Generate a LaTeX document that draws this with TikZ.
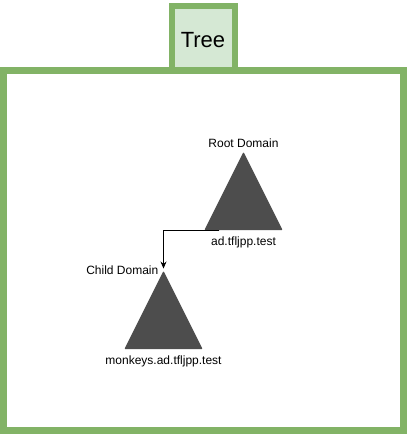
\documentclass[tikz,border=0pt]{standalone}
\usepackage{fontspec}
\setmainfont{Liberation Sans}
\usetikzlibrary{shapes.geometric,positioning,arrows.meta}
\definecolor{treegreen}{RGB}{130,179,102}
\definecolor{treefill}{RGB}{213,232,212}
\definecolor{domaingray}{RGB}{77,77,77}

\begin{document}
\begin{tikzpicture}[
    x=1pt, y=-1pt,
    frame/.style={rectangle, draw=treegreen, line width=7pt, fill=white, minimum width=400pt, minimum height=360pt, inner sep=0pt},
    title/.style={rectangle, draw=treegreen, line width=6pt, fill=treefill, minimum width=63pt, minimum height=64pt, inner sep=0pt, font=\fontsize{22}{26}\selectfont},
    domaintri/.style={isosceles triangle, isosceles triangle stretches, shape border rotate=90, minimum width=76pt, minimum height=76pt, inner sep=0pt, draw=domaingray, fill=domaingray, line width=1.5pt, line join=round},
    caption/.style={inner sep=1pt, font=\fontsize{12}{14}\selectfont},
    link/.style={-{Stealth[length=7pt,width=6pt]}, line width=0.8pt, black}
]
\useasboundingbox (0,0) rectangle (407,434);

% Tree container
\node[title] (title) at (203,38) {};
\node[frame] (tree) at (203.5,250.5) {};
\node[font=\fontsize{22}{26}\selectfont] (titletext) at (203,40) {Tree};

% Domains
\node[domaintri] (root) at (243.5,206) {};
\node[caption, above=3pt of root.apex] (rootname) {Root Domain};
\node[caption, below=5pt of root.south] (rootdns) {ad.tfljpp.test};

\node[domaintri] (child) at (163.5,325) {};
\node[caption, left=4pt of child.apex] (childname) {Child Domain};
\node[caption, below=5pt of child.south] (childdns) {monkeys.ad.tfljpp.test};

% Parent to child
\draw[link, shorten >=2pt] (root.south west) -| (child.apex);

\end{tikzpicture}
\end{document}
